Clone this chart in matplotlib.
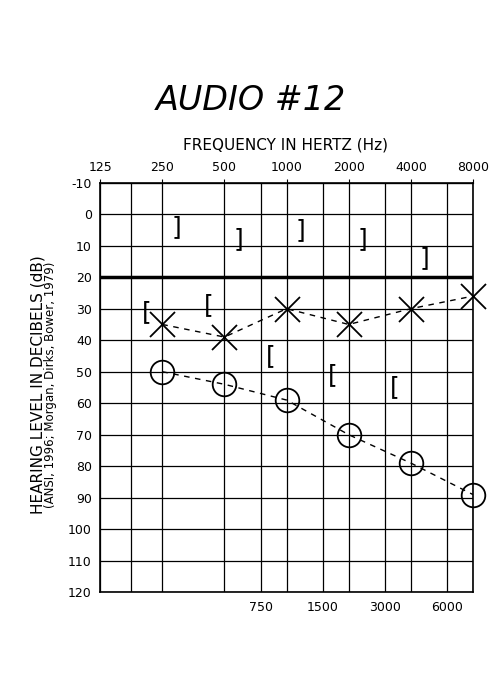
import numpy as np
import matplotlib
matplotlib.use("Agg")
import matplotlib.pyplot as plt
from matplotlib.ticker import NullLocator

freqs = [250, 500, 1000, 2000, 4000, 8000]
right_air = [50, 54, 59, 70, 79, 89]      # O
left_air = [35, 39, 30, 35, 30, 26]       # X
bone_left_f = [250, 500, 1000, 2000, 4000]
bone_left = [31, 29, 45, 51, 55]          # [
bone_right = [4, 8, 5, 8, 14]             # ]
top_ticks = [125, 250, 500, 1000, 2000, 4000, 8000]
bottom_ticks = [750, 1500, 3000, 6000]

fig = plt.figure(figsize=(5.01, 7), dpi=100)
ax = fig.add_axes([0.2, 0.154, 0.744, 0.585])
ax.set_xscale('log', base=2)
ax.set_xlim(125, 8000)
ax.set_ylim(120, -10)
grid_x = sorted(top_ticks + bottom_ticks + [177])
for gx in grid_x:
    ax.axvline(gx, color='black', lw=0.9)
for gy in range(-10, 121, 10):
    ax.axhline(gy, color='black', lw=0.9)
ax.axhline(20, color='black', lw=2.5)
ax.set_yticks(range(-10, 121, 10))
ax.set_yticklabels([str(v) for v in range(-10, 121, 10)], fontsize=9)
ax.set_xticks(bottom_ticks)
ax.set_xticklabels([str(v) for v in bottom_ticks], fontsize=9)
ax.xaxis.set_minor_locator(NullLocator())
ax.tick_params(length=0, pad=6)
ax2 = ax.secondary_xaxis('top')
ax2.set_xticks(top_ticks)
ax2.set_xticklabels([str(v) for v in top_ticks], fontsize=9)
ax2.xaxis.set_minor_locator(NullLocator())
ax2.tick_params(length=3)
for s in ax.spines.values():
    s.set_linewidth(1.2)

ax.plot(freqs, right_air, ls=(0, (4, 4)), color='black', lw=1, marker='o',
        ms=17, mfc='none', mec='black', mew=1.3, clip_on=False)
ax.plot(freqs, left_air, ls=(0, (4, 4)), color='black', lw=1, marker='x',
        ms=18, mew=1.3, clip_on=False)
for f, v in zip(bone_left_f, bone_left):
    ax.text(f * 0.84, v, '[', fontsize=18, ha='center', va='center')
for f, v in zip(bone_left_f, bone_right):
    ax.text(f * 1.17, v, ']', fontsize=18, ha='center', va='center')

fig.text(0.5, 0.857, 'AUDIO #12', fontsize=24, ha='center', va='center',
         style='italic', family='DejaVu Sans')
fig.text(0.57, 0.793, 'FREQUENCY IN HERTZ (Hz)', fontsize=11, ha='center', va='center')
fig.text(0.075, 0.45, 'HEARING LEVEL IN DECIBELS (dB)', fontsize=11, rotation=90,
         ha='center', va='center')
fig.text(0.1, 0.45, '(ANSI, 1996; Morgan, Dirks, Bower, 1979)', fontsize=8.5,
         rotation=90, ha='center', va='center')
fig.savefig('out.png', dpi=100, facecolor='white')
